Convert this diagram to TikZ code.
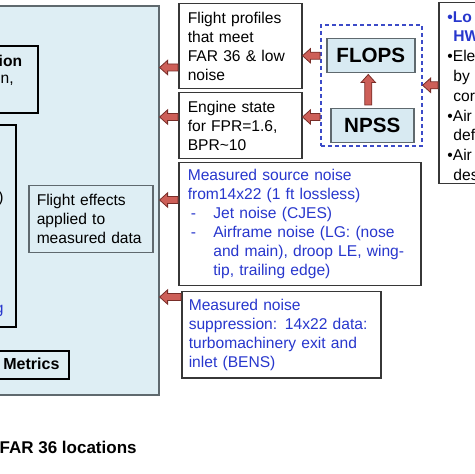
\documentclass[tikz,border=0pt]{standalone}
\usepackage{fontspec}
\setmainfont{Liberation Sans}
\usetikzlibrary{calc}
\definecolor{model_blue}{RGB}{222, 238, 244}
\definecolor{tool_blue}{RGB}{216, 234, 242}
\definecolor{edge_gray}{RGB}{95, 105, 110}
\definecolor{box_gray}{RGB}{55, 55, 55}
\definecolor{txt_blue}{RGB}{40, 55, 205}
\definecolor{dash_blue}{RGB}{60, 75, 200}
\definecolor{arrow_fill}{RGB}{205, 95, 88}
\definecolor{arrow_line}{RGB}{120, 45, 40}
\tikzstyle{model}=[rectangle,anchor=north west,fill=model_blue,draw=edge_gray,
  line width=0.8pt,inner sep=0pt]
\tikzstyle{blk}=[rectangle,anchor=north west,draw=black,line width=1pt,inner sep=0pt]
\tikzstyle{txt}=[rectangle,anchor=north west,draw=box_gray,line width=0.75pt,
  align=left,inner ysep=0pt,font=\fontsize{7.8pt}{9.5pt}\selectfont]
\tikzstyle{tool}=[rectangle,anchor=north west,fill=tool_blue,draw=edge_gray,
  line width=0.75pt,inner sep=0pt,font=\fontsize{10.3pt}{12pt}\selectfont\bfseries]
\tikzstyle{group}=[rectangle,anchor=north west,draw=dash_blue,line width=0.8pt,
  dash pattern=on 2.1pt off 1.4pt,inner sep=0pt]
\tikzstyle{frag}=[inner sep=0pt,font=\fontsize{7.8pt}{9.5pt}\selectfont]
\tikzstyle{fat}=[fill=arrow_fill,draw=arrow_line,line width=0.4pt,
  to path={let \p1=($(\tikztotarget)-(\tikztostart)$), \n1={atan2(\y1,\x1)},
    \n2={veclen(\x1,\y1)} in
    {[shift={(\tikztostart)},rotate=\n1]
      (0pt,-1.75pt) -- ({\n2-4pt},-1.75pt) -- ({\n2-4pt},-3.6pt) -- (\n2,0pt)
      -- ({\n2-4pt},3.6pt) -- ({\n2-4pt},1.75pt) -- (0pt,1.75pt) -- cycle}}]
\tikzstyle{none}=[]
\begin{document}
\begin{tikzpicture}[x=0.5pt, y=-0.5pt]
    \fill [white] (0,0) rectangle (474,474);
    \useasboundingbox (0,0) rectangle (474,474);
    \node [style=model, minimum width=89pt, minimum height=194.5pt] (model) at (-20,5) {};
    \node [style=blk, minimum width=28.5pt, minimum height=33.5pt] (ops) at (-20,45) {};
    \node [style=frag, anchor=east, font=\fontsize{7.8pt}{9.5pt}\selectfont\bfseries] (opsa) at (22.5,61) {ion};
    \node [style=frag, anchor=east] (opsb) at (14,80) {n,};
    \node [style=blk, minimum width=17.5pt, minimum height=101pt] (pred) at (-20,124) {};
    \node [style=frag, anchor=east] (preda) at (4,198) {)};
    \node [style=frag, anchor=east, text=txt_blue] (predb) at (4,311) {g};
    \node [style=blk, minimum width=44pt, minimum height=14pt] (metrics) at (-20,350) {};
    \node [style=frag, anchor=west, font=\fontsize{8pt}{9.5pt}\selectfont\bfseries] (metricsa) at (3,364) {Metrics};
    \node [style=txt, draw=edge_gray, fill=model_blue, inner xsep=4pt, text width=54pt,
      minimum height=33.5pt] (effects) at (28,185) {Flight effects\\applied to\\measured data};
    \node [style=txt, inner xsep=4.5pt, text width=52.5pt, minimum height=42.5pt] (profiles)
      at (178,3) {Flight profiles\\that meet\\FAR 36 \& low\\noise};
    \node [style=txt, inner xsep=4.5pt, text width=52.5pt, minimum height=33pt] (engine)
      at (178,92) {Engine state\\for FPR=1.6,\\BPR\textasciitilde10};
    \node [style=txt, text=txt_blue, inner xsep=4.5pt, text width=112pt, minimum height=61.5pt] (source)
      at (178,162) {Measured source noise\\from14x22 (1 ft lossless)\\
      \hspace*{1.5pt}\makebox[11.3pt][l]{-}Jet noise (CJES)\\
      \hspace*{1.5pt}\makebox[11.3pt][l]{-}Airframe noise (LG: (nose\\
      \hspace*{12.8pt}and main), droop LE, wing-\\
      \hspace*{12.8pt}tip, trailing edge)};
    \node [style=txt, text=txt_blue, inner xsep=3.5pt, text width=92.5pt, minimum height=43pt] (supp)
      at (181,291) {Measured noise\\suppression: 14x22 data:\\turbomachinery exit and\\inlet (BENS)};
    \node [style=group, minimum width=50.5pt, minimum height=60.5pt] (tools) at (320,24) {};
    \node [style=tool, minimum width=44pt, minimum height=17pt] (flops) at (326,38) {FLOPS};
    \node [style=tool, minimum width=41.5pt, minimum height=17pt] (npss) at (330,108) {NPSS};
    \node [style=txt, inner sep=0pt, minimum width=31pt, minimum height=90.5pt] (hw) at (438,2) {};
    \node [style=frag, anchor=north west, align=left, font=\fontsize{7.8pt}{9.9pt}\selectfont] (hwa)
      at (447,11) {\textcolor{txt_blue}{\textbf{•Lo}}\\\hspace*{3pt}\textcolor{txt_blue}{\textbf{HW}}\\
      •Ele\\\hspace*{3pt}by\\\hspace*{3pt}cor\\•Air\\\hspace*{3pt}def\\•Air\\\hspace*{3pt}des};
    \node [style=frag, anchor=east, font=\fontsize{8.5pt}{10pt}\selectfont\bfseries] (far)
      at (137,447) {FAR 36 locations};
    \coordinate (a1) at ($(profiles.south west)+(0,-22)$);
    \coordinate (a2) at ($(engine.north west)+(0,25)$);
    \coordinate (a3) at ($(source.north west)+(0,38)$);
    \coordinate (a4) at ($(supp.north west)+(0,6)$);
    \coordinate (b1) at (flops -| tools.west);
    \coordinate (b2) at (a2 -| tools.west);
    \coordinate (c1) at ($(npss.north)+(-4,-3)$);
    \coordinate (c2) at (tools.east -| hw.west);
    \draw [style=fat] (a1) to (a1 -| model.east);
    \draw [style=fat] (a2) to (a2 -| model.east);
    \draw [style=fat] (a3) to (a3 -| model.east);
    \draw [style=fat] (a4) to (a4 -| model.east);
    \draw [style=fat] (b1) to (b1 -| profiles.east);
    \draw [style=fat] (b2) to (b2 -| engine.east);
    \draw [style=fat] (c1) to ($(c1 |- flops.south)+(0,1)$);
    \draw [style=fat] (c2) to (tools.east);
\end{tikzpicture}
\end{document}
